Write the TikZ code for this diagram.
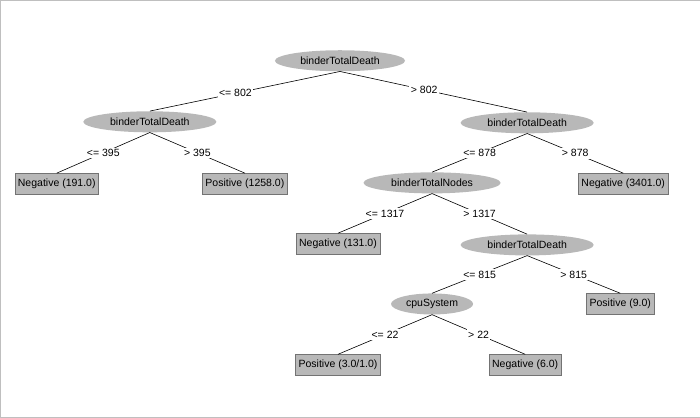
\documentclass[tikz,border=0pt]{standalone}
\usepackage{fontspec}
\setmainfont{Liberation Sans}
\usetikzlibrary{shapes.geometric}
\begin{document}
\begin{tikzpicture}[x=1pt,y=-1pt,font=\fontsize{10.5}{12}\selectfont,
  inner/.style={ellipse,fill=black!28,minimum height=21pt,inner sep=1pt},
  leaf/.style={rectangle,fill=black!28,draw=black!55,minimum height=21pt,inner xsep=3pt},
  edge/.style={draw=black,line width=0.6pt},
  lab/.style={fill=white,inner sep=1.5pt}]
\useasboundingbox[draw=black!25] (0.5,0.5) rectangle (699.5,417.5);
\node[inner,minimum width=130pt] (r) at (340,61) {binderTotalDeath};
\node[inner,minimum width=133pt] (a) at (150,122) {binderTotalDeath};
\node[inner,minimum width=133pt] (b) at (527,123) {binderTotalDeath};
\node[leaf] (l1) at (57,184) {Negative (191.0)};
\node[leaf] (l2) at (245,184) {Positive (1258.0)};
\node[inner,minimum width=137pt] (c) at (432,183) {binderTotalNodes};
\node[leaf] (l3) at (623,184) {Negative (3401.0)};
\node[leaf] (l4) at (338,244) {Negative (131.0)};
\node[inner,minimum width=133pt] (d) at (527,245) {binderTotalDeath};
\node[leaf] (l5) at (620,304) {Positive (9.0)};
\node[inner,minimum width=82pt] (e) at (432,304) {cpuSystem};
\node[leaf] (l6) at (338,365) {Positive (3.0/1.0)};
\node[leaf] (l7) at (525,365) {Negative (6.0)};
\foreach \p/\c/\t/\s in {r/a/{<= 802}/0.55, r/b/{> 802}/0.45, a/l1/{<= 395}/0.5, a/l2/{> 395}/0.5,
  b/c/{<= 878}/0.5, b/l3/{> 878}/0.5, c/l4/{<= 1317}/0.5, c/d/{> 1317}/0.5,
  d/e/{<= 815}/0.5, d/l5/{> 815}/0.5, e/l6/{<= 22}/0.5, e/l7/{> 22}/0.5}{
  \draw[edge] (\p.south) -- (\c.north) node[lab,pos=\s] {\t};
}
\end{tikzpicture}
\end{document}
